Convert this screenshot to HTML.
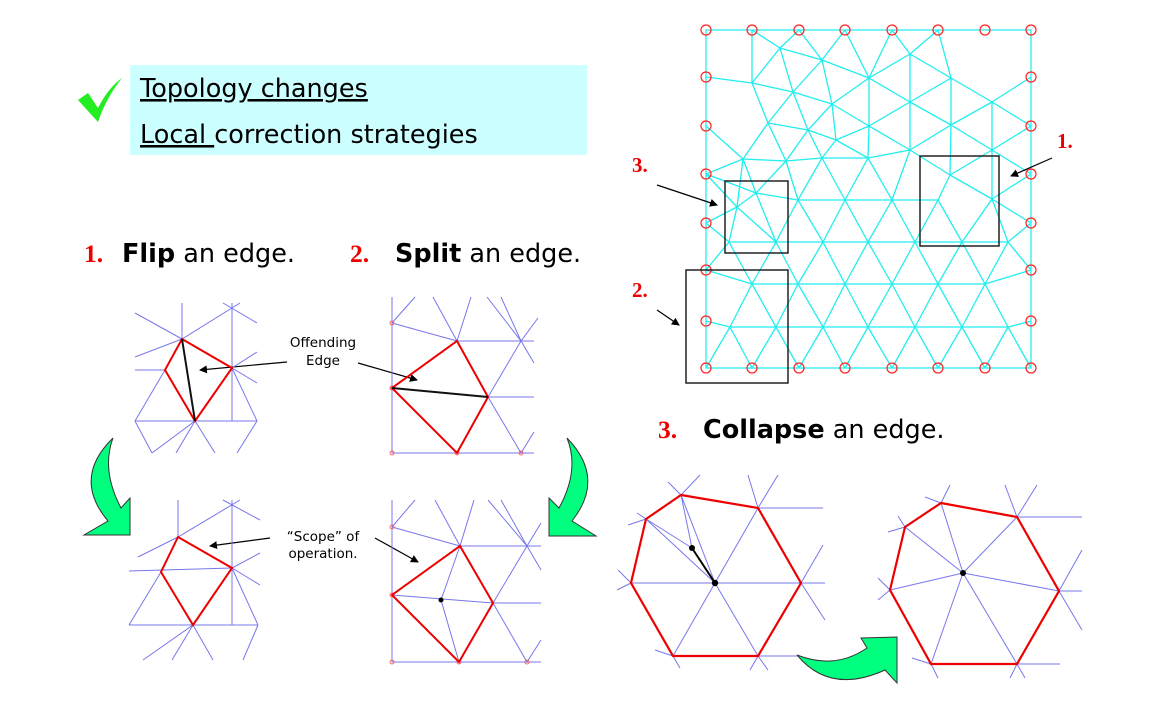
<!DOCTYPE html>
<html><head><meta charset="utf-8"><style>
body{margin:0;background:#fff;width:1170px;height:702px;overflow:hidden;font-family:"Liberation Sans","DejaVu Sans",sans-serif}
svg{position:absolute;left:0;top:0}
</style></head><body>
<svg id="s" width="1170" height="702" viewBox="0 0 1170 702" font-family="'DejaVu Sans','Liberation Sans',sans-serif">
<rect x="130" y="65" width="457" height="90" fill="#ccffff"/>
<path d="M78,100 L88,93 L98,108 Q108,88 122,78 Q106,98 98,122 Z" fill="#22ee22"/>
<text x="140" y="97" font-size="25.5" text-decoration="underline">Topology changes</text>
<text x="140" y="143" font-size="25.5"><tspan text-decoration="underline">Local </tspan>correction strategies</text>
<g font-size="25.5">
<text x="84" y="262" fill="#e00" font-weight="bold" font-family="'Liberation Serif',serif">1.</text>
<text x="122" y="262"><tspan font-weight="bold">Flip</tspan> an edge.</text>
<text x="350" y="262" fill="#e00" font-weight="bold" font-family="'Liberation Serif',serif">2.</text>
<text x="395" y="262"><tspan font-weight="bold">Split</tspan> an edge.</text>
<text x="658" y="438" fill="#e00" font-weight="bold" font-family="'Liberation Serif',serif">3.</text>
<text x="703" y="438"><tspan font-weight="bold">Collapse</tspan> an edge.</text>
</g>
<g font-size="21" fill="#e00" font-weight="bold" font-family="'Liberation Serif',serif">
<text x="632" y="172">3.</text><text x="1057" y="148">1.</text><text x="632" y="297">2.</text>
</g>
<g id="mesh" stroke="#22eeee" stroke-width="1.3" fill="none"></g>
<g id="circ" stroke="#f22" stroke-width="1.2" fill="none"></g>
<g stroke="#222" stroke-width="1.5" fill="none">
<rect x="725" y="181" width="63" height="72"/><rect x="920" y="156" width="79" height="90"/><rect x="686" y="270" width="102" height="113"/>
</g>
<defs><marker id="a" markerWidth="8" markerHeight="8" refX="7" refY="4" orient="auto" markerUnits="userSpaceOnUse"><path d="M0,0 L8,4 L0,8 Z" fill="#000"/></marker></defs>
<g stroke="#000" stroke-width="1.2" marker-end="url(#a)">
<line x1="657" y1="185" x2="717" y2="205"/><line x1="1052" y1="158" x2="1011" y2="176"/><line x1="657" y1="310" x2="679" y2="325"/>
<line x1="287" y1="362" x2="200" y2="370"/><line x1="358" y1="363" x2="417" y2="380"/>
<line x1="270" y1="538" x2="210" y2="546"/><line x1="375" y1="538" x2="418" y2="562"/>
</g>
<g font-size="13.5" text-anchor="middle"><text x="323" y="347">Offending</text><text x="323" y="365">Edge</text>
<text x="323" y="541">“Scope” of</text><text x="323" y="558">operation.</text></g>
<!-- flip top -->
<g stroke="#7777ee" stroke-width="1" fill="none">
<path d="M182,303V339M232,303V421M135,357L182,339M135,313L182,339L240,303M223,303L257,323M182,339L232,368M232,368L257,352M232,368L257,383M135,370H165M135,421H257M135,421L165,370M165,370L195,421M195,421L232,368L257,421M232,368L257,421M152,453L195,421L215,453M165,370L195,421M135,421L152,453M257,421L237,453M195,421L176,453"/>
</g>
<path d="M182,339L232,368L195,421L165,370Z" stroke="#e00" stroke-width="2" fill="none"/>
<line x1="182" y1="339" x2="195" y2="421" stroke="#111" stroke-width="2"/>
<!-- flip bottom -->
<g stroke="#7777ee" stroke-width="1" fill="none">
<path d="M178,500V537M232,500V625M138,557L178,537L240,500M223,500L260,520M178,537L232,568M232,568L260,553M232,568L260,585M129,571L232,568M129,625H258M129,625L161,572M232,568L258,625M143,660L193,625L213,660M258,625L243,660M193,625L172,660"/>
</g>
<path d="M178,537L232,568L193,625L161,572Z" stroke="#e00" stroke-width="2" fill="none"/>
<!-- split top -->
<g stroke="#7777ee" stroke-width="1" fill="none">
<path d="M392,297V453H534M392,323L457,341L471,297M457,341L433,297M392,323L415,297M457,341H534M487,297L521,341L538,318M521,341L501,297M488,397H534M521,341L488,397M488,397L521,453L534,432M521,341L534,363"/>
</g>
<g stroke="#f66" fill="none"><circle cx="392" cy="323" r="2"/><circle cx="392" cy="453" r="2"/><circle cx="457" cy="453" r="2"/><circle cx="521" cy="453" r="2"/><circle cx="392" cy="388" r="2"/></g>
<path d="M457,341L488,397L457,453L392,388Z" stroke="#e00" stroke-width="2" fill="none"/>
<line x1="392" y1="388" x2="488" y2="397" stroke="#111" stroke-width="2"/>
<!-- split bottom -->
<g stroke="#7777ee" stroke-width="1" fill="none">
<path d="M392,500V662H541M392,527L460,546L474,500M460,546L435,500M392,527L415,500M460,546H541M488,500L527,546L541,523M527,546L501,500M493,603H541M527,546L493,603M493,603L527,662L541,640M527,546L541,570M392,595L493,603M441,600L460,546M441,600L459,662"/>
</g>
<g stroke="#f66" fill="none"><circle cx="392" cy="527" r="2"/><circle cx="392" cy="662" r="2"/><circle cx="459" cy="662" r="2"/><circle cx="527" cy="662" r="2"/><circle cx="392" cy="595" r="2"/></g>
<path d="M460,546L493,603L459,662L392,595Z" stroke="#e00" stroke-width="2" fill="none"/>
<circle cx="441" cy="600" r="2.5" fill="#000"/>
<!-- collapse left -->
<g stroke="#7777ee" stroke-width="1" fill="none">
<path d="M631,583H825M715,583L681,495M715,583L646,519M715,583L758,508M715,583L673,656M715,583L758,656M681,495L692,548M646,519L692,548M673,656L758,656H800M758,656L801,583L823,545M801,583L825,620M758,508H823M758,508L748,475M758,508L778,475M681,495L668,482M681,495L700,475M646,519L628,525M646,519L637,513M631,583L617,590M631,583L618,570M673,656L655,650M673,656L680,668M758,656L750,670M758,656L768,670"/>
</g>
<path d="M681,495L758,508L801,583L758,656L673,656L631,583L646,519Z" stroke="#e00" stroke-width="2.2" fill="none"/>
<line x1="692" y1="548" x2="715" y2="583" stroke="#000" stroke-width="2"/>
<circle cx="692" cy="548" r="3" fill="#000"/><circle cx="715" cy="583" r="3.2" fill="#000"/>
<!-- collapse right -->
<g stroke="#7777ee" stroke-width="1" fill="none">
<path d="M963,573L941,503M963,573L905,527M963,573L1017,517M963,573L890,590M963,573L1059,591M963,573L931,664M963,573L1017,664M1017,517H1082M1017,517L1005,485M1017,517L1037,485M1059,591H1082M1059,591L1082,550M1059,591L1082,630M1017,664H1060M1017,664L1010,678M1017,664L1025,678M931,664L912,658M931,664L938,678M890,590L878,600M890,590L878,578M905,527L888,532M905,527L898,516M941,503L925,497M941,503L950,485"/>
</g>
<path d="M941,503L1017,517L1059,591L1017,664L931,664L890,590L905,527Z" stroke="#e00" stroke-width="2.2" fill="none"/>
<circle cx="963" cy="573" r="3" fill="#000"/>
<!-- green arrows -->
<g fill="#00ff7f" stroke="#333" stroke-width="1">
<path d="M113,438 Q72,478 108,521 L84,535 L130,535 L130,498 L121,508 Q101,470 113,438Z"/>
<path d="M567,438 Q606,478 572,521 L596,536 L549,536 L549,498 L559,508 Q580,470 567,438Z"/>
<path d="M797,655 Q830,695 885,670 L897,683 L897,637 L861,638 L867,648 Q835,670 797,655Z"/>
</g>
</svg>
<script>
var X=[706,752,799,845,892,938,985,1031],Y=[30,77,126,174,223,270,321,368];
var N=[];
for(var i=0;i<8;i++){N.push([X[i],Y[0]]);N.push([X[i],Y[7]]);}
for(var j=1;j<7;j++){N.push([X[0],Y[j]]);N.push([X[7],Y[j]]);}
var B=N.length;
var I=[[752,83],[793,92],[832,104],[869,78],[910,102],[951,78],[992,102],[822,60],[910,54],[780,48],
[768,123],[808,130],[836,140],[869,126],[910,150],[951,125],[992,150],
[743,159],[786,161],[822,158],[868,158],[950,175],[992,199],[756,193],[737,207],
[798,200],[845,200],[892,200],[938,200],
[729,242],[776,242],[823,242],[868,242],[915,242],[962,242],[1008,242],
[752,284],[798,284],[845,284],[892,284],[938,284],[985,284],
[776,327],[823,327],[868,327],[915,327],[962,327],[730,327],[1008,327]];
N=N.concat(I);
var m=document.getElementById('mesh'),c=document.getElementById('circ'),ns='http://www.w3.org/2000/svg',d='M706,30H1031V368H706Z';
for(var a=0;a<N.length;a++)for(var b=a+1;b<N.length;b++){
 if(a<B&&b<B)continue;
 var dx=N[a][0]-N[b][0],dy=N[a][1]-N[b][1],L=Math.sqrt(dx*dx+dy*dy);
 if(L<54)d+='M'+N[a][0]+','+N[a][1]+'L'+N[b][0]+','+N[b][1];}
var p=document.createElementNS(ns,'path');p.setAttribute('d',d);m.appendChild(p);
for(var k=0;k<B;k++){var e=document.createElementNS(ns,'circle');e.setAttribute('cx',N[k][0]);e.setAttribute('cy',N[k][1]);e.setAttribute('r',5);c.appendChild(e);}
</script>
</body></html>
